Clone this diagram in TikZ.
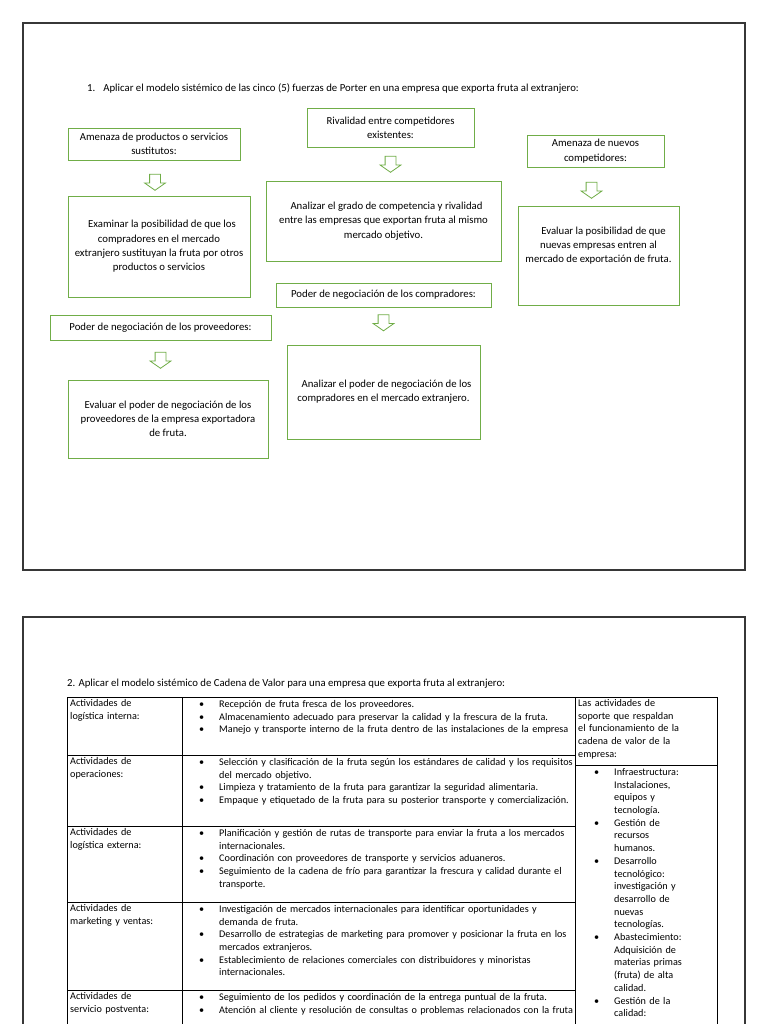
\documentclass[tikz,border=0pt]{standalone}
\usepackage{fontspec}
\setmainfont{Carlito}
\usepackage{enumitem}
\usetikzlibrary{positioning, calc, shapes.arrows}
\definecolor{fzgreen}{RGB}{112,173,71}
\definecolor{pagegray}{RGB}{55,55,55}
\setlist[itemize]{label=\textbullet, leftmargin=35pt, labelsep=15pt, itemsep=0pt, topsep=0pt, parsep=0pt, partopsep=0pt}
\tikzset{
    pageframe/.style={draw=pagegray, line width=1.1pt},
    forcebox/.style={rectangle, draw=fzgreen, line width=0.8pt, align=center, inner sep=2pt, font=\fontsize{10.75}{14.3}\selectfont},
    boxtext/.style={align=center, inner sep=0pt, font=\fontsize{10.75}{14.3}\selectfont},
    downarrow/.style={single arrow, draw=fzgreen, fill=white, line width=0.8pt, rotate=-90, minimum height=16pt, inner sep=5pt, single arrow head extend=5pt, single arrow tip angle=110},
    heading/.style={anchor=base west, inner sep=0pt, font=\fontsize{10.75}{12.7}\selectfont},
    gridline/.style={draw=black, line width=0.6pt},
    cellname/.style={anchor=north west, inner sep=0pt, align=left, text width=110pt, font=\fontsize{10.2}{12.7}\selectfont},
    celllist/.style={anchor=north west, inner sep=0pt, align=left, text width=400pt, font=\fontsize{10.2}{12.7}\selectfont}
}
\begin{document}
\begin{tikzpicture}[x=1pt, y=-1pt]
    \useasboundingbox (0,0) rectangle (768,1024);
    \clip (0,0) rectangle (768,1024);
    \fill[white] (0,0) rectangle (768,1024);

    % Page 1: cinco fuerzas
    \draw[pageframe] (23,23) rectangle (745,570);
    \node[heading] (titulo1) at (87,92) {1.\hspace{8pt}Aplicar el modelo sistémico de las cinco (5) fuerzas de Porter en una empresa que exporta fruta al extranjero:};

    % Forces as Boxes
    \node[forcebox, minimum width=172pt, minimum height=32pt] (amenazaSust) at (154,144) {Amenaza de productos o servicios\\sustitutos:};
    \node[forcebox, minimum width=182pt, minimum height=101pt] (examinarSust) at (159,246.5) {\hspace*{6pt}Examinar la posibilidad de que los\\compradores en el mercado\\extranjero sustituyan la fruta por otros\\productos o servicios};

    \node[forcebox, minimum width=167pt, minimum height=39pt] (rivalidad) at (390.5,127.5) {Rivalidad entre competidores\\existentes:};
    \node[forcebox, minimum width=235pt, minimum height=80pt] (analizarRiv) at (383.5,221) {\hspace*{6pt}Analizar el grado de competencia y rivalidad\\entre las empresas que exportan fruta al mismo\\mercado objetivo.};

    \node[forcebox, minimum width=137pt, minimum height=32pt] (amenazaNuev) at (595.5,151) {Amenaza de nuevos\\competidores:};
    \node[forcebox, minimum width=161pt, minimum height=99pt] (evaluarNuev) at (598.5,255.5) {};
    \node[boxtext] (evaluarNuevTxt) at ($(evaluarNuev.center)+(0,-10)$) {\hspace*{10pt}Evaluar la posibilidad de que\\nuevas empresas entren al\\mercado de exportación de fruta.};

    \node[forcebox, minimum width=215pt, minimum height=24pt] (poderComp) at (383.5,295) {Poder de negociación de los compradores:};
    \node[forcebox, minimum width=193pt, minimum height=94pt] (analizarComp) at (383.5,392) {\hspace*{6pt}Analizar el poder de negociación de los\\compradores en el mercado extranjero.};

    \node[forcebox, minimum width=221pt, minimum height=25pt] (poderProv) at (160.5,327.5) {Poder de negociación de los proveedores:};
    \node[forcebox, minimum width=200pt, minimum height=78pt] (evaluarProv) at (168,419) {Evaluar el poder de negociación de los\\proveedores de la empresa exportadora\\de fruta.};

    % Arrows
    \node[downarrow] (flechaSust) at ($(amenazaSust.south)+(1,20)$) {};
    \node[downarrow] (flechaRiv) at ($(rivalidad.south)+(0,15)$) {};
    \node[downarrow] (flechaNuev) at ($(amenazaNuev.south)+(-4,21)$) {};
    \node[downarrow] (flechaComp) at ($(poderComp.south)+(0,13.5)$) {};
    \node[downarrow] (flechaProv) at ($(poderProv.south)+(0,18)$) {};

    % Page 2: cadena de valor
    \draw[pageframe] (745,1030) -- (745,617) -- (23,617) -- (23,1030);
    \node[heading] (titulo2) at (67,686) {2. Aplicar el modelo sistémico de Cadena de Valor para una empresa que exporta fruta al extranjero:};

    % Table grid
    \draw[gridline] (67,697) -- (717,697);
    \foreach \y in {755,826,902,990}
        \draw[gridline] (67,\y) -- (575,\y);
    \draw[gridline] (575,765) -- (717,765);
    \foreach \x in {67,182,575,717}
        \draw[gridline] (\x,697) -- (\x,1030);

    % Primary activities
    \node[cellname] (logIntName) at (70,697.5) {\strut Actividades de\\logística interna:};
    \node[celllist] (logIntList) at (184,694.5) {\begin{itemize}
        \item \strut Recepción de fruta fresca de los proveedores.
        \item Almacenamiento adecuado para preservar la calidad y la frescura de la fruta.
        \item Manejo y transporte interno de la fruta dentro de las instalaciones de la empresa
    \end{itemize}};

    \node[cellname] (operName) at (70,755.5) {\strut Actividades de\\operaciones:};
    \node[celllist] (operList) at (184,752.5) {\begin{itemize}
        \item \strut Selección y clasificación de la fruta según los estándares de calidad y los requisitos\newline del mercado objetivo.
        \item Limpieza y tratamiento de la fruta para garantizar la seguridad alimentaria.
        \item Empaque y etiquetado de la fruta para su posterior transporte y comercialización.
    \end{itemize}};

    \node[cellname] (logExtName) at (70,826.5) {\strut Actividades de\\logística externa:};
    \node[celllist] (logExtList) at (184,823.5) {\begin{itemize}
        \item \strut Planificación y gestión de rutas de transporte para enviar la fruta a los mercados\newline internacionales.
        \item Coordinación con proveedores de transporte y servicios aduaneros.
        \item Seguimiento de la cadena de frío para garantizar la frescura y calidad durante el\newline transporte.
    \end{itemize}};

    \node[cellname] (mktName) at (70,902.5) {\strut Actividades de\\marketing y ventas:};
    \node[celllist] (mktList) at (184,899.5) {\begin{itemize}
        \item \strut Investigación de mercados internacionales para identificar oportunidades y\newline demanda de fruta.
        \item Desarrollo de estrategias de marketing para promover y posicionar la fruta en los\newline mercados extranjeros.
        \item Establecimiento de relaciones comerciales con distribuidores y minoristas\newline internacionales.
    \end{itemize}};

    \node[cellname] (postName) at (70,990.5) {\strut Actividades de\\servicio postventa:};
    \node[celllist] (postList) at (184,987.5) {\begin{itemize}
        \item \strut Seguimiento de los pedidos y coordinación de la entrega puntual de la fruta.
        \item Atención al cliente y resolución de consultas o problemas relacionados con la fruta
    \end{itemize}};

    % Support activities
    \node[cellname, text width=140pt] (soporteHead) at (578,697.5) {\strut Las actividades de\\soporte que respaldan\\el funcionamiento de la\\cadena de valor de la\\empresa:};
    \node[celllist, text width=200pt] (soporteList) at (577,762.5) {\begin{itemize}[leftmargin=37pt, labelsep=15pt]
        \item \strut Infraestructura:\newline Instalaciones,\newline equipos y\newline tecnología.
        \item Gestión de\newline recursos\newline humanos.
        \item Desarrollo\newline tecnológico:\newline investigación y\newline desarrollo de\newline nuevas\newline tecnologías.
        \item Abastecimiento:\newline Adquisición de\newline materias primas\newline (fruta) de alta\newline calidad.
        \item Gestión de la\newline calidad:
    \end{itemize}};
\end{tikzpicture}
\end{document}
